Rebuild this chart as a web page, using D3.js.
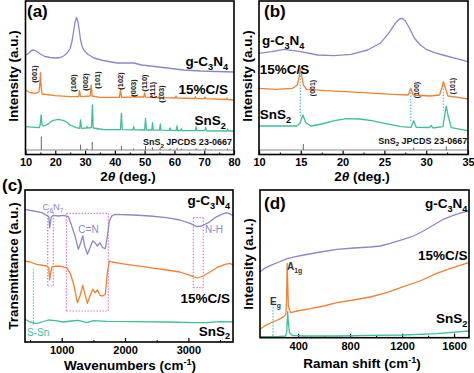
<!DOCTYPE html>
<html>
<head>
<meta charset="utf-8">
<script src="https://cdn.jsdelivr.net/npm/d3@7"></script>
<style>
body{margin:0;background:#fff;}
svg text{font-family:"Liberation Sans",Arial,sans-serif;font-weight:bold;}
</style>
</head>
<body>
<svg id="fig" width="474" height="373"></svg>
<script>
var purple="#8c87ca", orange="#f3802e", green="#3dbe9c", pink="#e07ad6", cyan="#55c3d6";

// names (with sub/superscripts)
var nameGCN = [["g-C",""],["3","sub"],["N",""],["4","sub"]];
var nameCS = [["15%C/S",""]];
var nameSnS = [["SnS",""],["2","sub"]];

// ---- (a) XRD 10-80 deg, [2theta, intensity a.u.]
var xrdA_gcn = [[10,99],[11,101],[12,104],[12.8,104.5],[13.8,103],[15,100.5],[16.5,98],[18.4,97],[20,96.5],[21.8,97],[23,99],[24,101.5],[25,106],[25.7,114.5],[26.2,124],[26.6,132],[27.1,137],[27.6,133],[28,125],[28.5,114.5],[29,108],[29.6,104.5],[31,100],[33,96.5],[36,94],[40.8,91.5],[46.4,91.5],[49,89.5],[52,88.5],[57.6,86.5],[63,84.5],[68.8,83.5],[74,83],[80,82.5]];
var xrdA_cs = [[10,65],[10.8,63],[11.5,62],[13.5,61.2],[14.5,62.5],[14.8,70],[15.0,81.8],[15.25,67],[15.6,60.5],[20,58.8],[25,57.8],[27.85,57.8],[28.15,63.8],[28.5,57.8],[31.7,58.5],[32.05,69.5],[32.4,58.5],[35,57.2],[41.55,57.2],[41.9,65.2],[42.25,57.2],[45.8,57.5],[46.05,59.5],[46.3,57.5],[49.7,57.5],[49.95,61.5],[50.25,57.4],[52.1,57.2],[52.35,60],[52.6,57],[54.7,56.8],[54.95,58.8],[55.2,56.8],[60.3,56.5],[60.55,58.5],[60.8,56.5],[66.8,56],[67.05,57.8],[67.3,56],[70,55.8],[70.25,57.5],[70.5,55.8],[77.4,55],[77.65,56.5],[77.9,55],[80,54.5]];
var xrdA_sns = [[10,27.8],[14.6,26.8],[14.95,30],[15.25,39.5],[15.55,30],[16,28.5],[17,29.5],[18,31.5],[19,33.8],[21,35.2],[23,33.8],[24,32],[25,29.5],[27,26.8],[28.2,26.2],[28.5,34.5],[28.8,26.2],[30.4,26.5],[30.6,28],[30.8,26.3],[32.15,27],[32.45,49.5],[32.75,26.5],[36,25],[41.9,24.8],[42.2,41.2],[42.5,24.8],[46.1,24.6],[46.35,28],[46.6,24.6],[50,24.5],[50.3,36.2],[50.6,24.5],[52.4,24.5],[52.65,31.8],[52.9,24.4],[55,24.4],[55.25,30.5],[55.5,24.4],[58.3,24.2],[58.55,26.5],[58.8,24.2],[60.6,24],[60.85,28.5],[61.1,24],[62.1,24],[62.35,25.8],[62.6,24],[67.0,23.8],[67.3,27.5],[67.6,23.8],[70.2,23.8],[70.5,27],[70.8,23.7],[77.6,23.5],[77.85,25.5],[78.1,23.5],[80,23.5]];
var jcpdsPos = [15.3,28.5,30.6,32.4,42.2,46.3,50.3,52.6,55.2,58.5,60.9,62.3,67.3,70.5,77.8];
var jcpdsInt = [100,40,12,60,30,10,30,20,15,10,15,10,12,12,10];
var hklA = ["(001)","(100)","(002)","(101)","(102)","(003)","(110)","(111)","(103)"];
var hklAPos = [13.0,26.0,30.0,34.2,41.9,46.2,50.0,52.7,55.7];
var hklAVal = [80.5,71.5,72.5,74.5,73.5,66.5,71.5,64.5,60.5];

// ---- (b) XRD 10-35 deg
var xrdB_gcn = [[10,101.2],[11.5,102.8],[13,105.2],[15,102.8],[17,99.5],[19,98.8],[21,100.2],[23,104.5],[24.5,111.2],[25.5,121.2],[26.3,131.2],[26.8,135.5],[27.1,136.2],[27.5,133.8],[28,126.2],[28.6,116.2],[29.3,109.5],[30,105.2],[31,101.8],[32,99.5],[33.5,96.2],[35,92.8]];
var xrdB_cs = [[10,66.2],[12,65.2],[14,66.2],[14.6,69.5],[14.8,77.8],[14.95,86.2],[15.1,79.5],[15.3,69.5],[15.7,65.2],[18,63.8],[22,62.2],[26,60.2],[27.85,59.5],[28.15,66.2],[28.45,59.5],[30.5,58.5],[31.6,59.5],[31.85,66.2],[32.05,72.8],[32.3,66.2],[32.6,58.5],[34,56.8],[35,55.5]];
var xrdB_sns = [[10,28.5],[12,28.5],[14.5,28.5],[14.9,31.2],[15.25,39.5],[15.6,31.8],[16.2,28.5],[17.5,30.5],[19,33.8],[20.5,35.8],[22,35.5],[23.5,33.8],[25,31.2],[27,27.8],[28.2,27.2],[28.5,33.8],[28.8,27.2],[30.4,27],[30.6,29.2],[30.8,26.5],[32.0,27.8],[32.25,41.2],[32.4,48.5],[32.6,39.5],[33.0,26.8],[35,23.8]];
var guideB = [14.95,28.15,32.05];
var guideBTop = [85,65,72];
var guideBBot = [38,33,44];
var hklB = ["(001)","(100)","(101)"];
var hklBPos = [16.35,28.9,33.2];
var hklBVal = [66.5,64.5,68.5];

// ---- (c) FTIR, [wavenumber, transmittance a.u.]
var ftir_gcn = [[421,132.7],[553,131],[684,129.3],[763,126.7],[795,125.3],[810,114.3],[821,119.3],[837,125.3],[868,126.7],[947,126],[1026,126.7],[1105,125.3],[1158,116],[1210,106],[1263,92.7],[1300,99.3],[1332,106],[1363,96],[1405,87.7],[1447,94.3],[1489,101],[1526,99.3],[1563,96],[1605,99.3],[1647,94.3],[1689,93.3],[1721,106],[1753,121],[1790,126],[1842,127.7],[2132,127],[2395,126],[2658,124.3],[2868,122],[3026,118.7],[3132,115.3],[3210,116],[3316,119.3],[3421,124.3],[3526,127.7],[3605,129.3],[3668,127.7],[3705,126.7]];
var ftir_cs = [[421,81],[500,80],[605,77.7],[763,76],[795,74.3],[810,62],[826,69.3],[847,75.3],[947,76],[1079,74.3],[1142,67.7],[1195,56],[1247,39.3],[1289,46],[1332,56.7],[1368,47.7],[1405,38.7],[1447,46],[1489,52.7],[1526,49.3],[1563,52],[1605,46.7],[1647,46],[1689,47.7],[1721,69.3],[1753,81],[1790,80],[1921,78.7],[2132,76.7],[2395,74.3],[2658,72],[2868,70],[3026,66.7],[3142,64],[3237,66],[3342,70],[3447,74.3],[3579,77.7],[3658,78.7],[3705,76.7]];
var ftir_sns = [[421,22.7],[500,20],[605,18.3],[684,20],[790,22],[895,21.3],[1026,20],[1158,21],[1263,21.7],[1395,19.3],[1500,21.3],[1710,20.7],[2132,20.3],[2658,20],[3079,19.3],[3289,19.3],[3500,20.3],[3705,20]];
var boxLo = [778,1075,3078];
var boxHi = [867,1736,3236];
var boxTop = [130,128.7,124.3];
var boxBot = [56,31,54.3];
var ssnPos = 553, ssnTop = 72.7, ssnBot = 16;

// ---- (d) Raman, [shift, intensity a.u.]
var raman_gcn = [[106,65.7],[137,69],[188,72.4],[252,75.7],[316,79],[380,81],[443,82.7],[571,85.7],[699,88.4],[827,89.7],[955,90.7],[1031,91.7],[1108,94.4],[1210,98.4],[1287,101.7],[1364,106.7],[1440,112.4],[1517,118.4],[1594,122.4],[1658,125],[1714,126.7]];
var raman_cs = [[106,8.4],[150,12.4],[201,15.7],[252,18.4],[290,21],[305,23.4],[311,40],[315,74.4],[318,61.7],[324,31.7],[341,25],[392,26.7],[495,29],[597,31.7],[699,35],[827,37.7],[955,40.7],[1082,45],[1210,51],[1338,56.7],[1466,64.4],[1568,69],[1645,72.4],[1714,75]];
var raman_sns = [[106,1],[239,1],[303,1.7],[312,6],[319,26],[323,16.7],[333,5],[354,2.4],[443,1.7],[699,1.7],[955,2.4],[1210,2.7],[1466,4],[1714,6.7]];
var egPos = 206, egTop = 36.7;

var svg = d3.select("#fig");

function rich(t, parts, fs){
  var shift = 0;
  parts.forEach(function(p){
    var s = p[1]=="sub" ? fs*0.28 : p[1]=="sup" ? -fs*0.38 : 0;
    var small = p[1]=="sub" || p[1]=="sup";
    t.append("tspan").text(p[0])
      .attr("dy", (s-shift).toFixed(2))
      .style("font-size", (small ? fs*0.68 : fs)+"px")
      .style("font-style", p[1]=="it" ? "italic" : null);
    shift = s;
  });
  return t;
}

function panel(o){
  var x = d3.scaleLinear().domain(o.dom).range([o.left,o.right]);
  var y = d3.scaleLinear().domain([0,o.bottom-o.top]).range([o.bottom,o.top]);
  var g = svg.append("g");
  g.append("g").attr("transform","translate(0,"+o.bottom+")")
    .call(d3.axisBottom(x).tickValues(o.ticks).tickSize(-4).tickPadding(o.pad).tickFormat(d3.format("d")))
    .call(a=>a.select(".domain").remove())
    .call(a=>a.selectAll("line").attr("stroke","#000").attr("stroke-width",1.2))
    .selectAll("text").style("font-size","11px").attr("fill","#000");
  g.append("g").attr("transform","translate(0,"+o.bottom+")")
    .call(d3.axisBottom(x).tickValues(o.minor).tickSize(-2).tickFormat(""))
    .call(a=>a.select(".domain").remove())
    .call(a=>a.selectAll("line").attr("stroke","#000").attr("stroke-width",1));
  // titles
  rich(g.append("text").attr("x",o.xtx).attr("y",o.xty).attr("text-anchor","middle"), o.xtitle, 13.5);
  g.append("text").attr("transform","translate("+o.ytx+","+o.yty+") rotate(-90)")
    .attr("text-anchor","middle").style("font-size","13.5px").text(o.ytitle);
  g.append("text").attr("x",o.lx).attr("y",o.ly).style("font-size","17px").text(o.tag);
  return {g:g,x:x,y:y,o:o};
}

function frame(p){
  var o = p.o;
  p.g.append("rect").attr("x",o.left).attr("y",o.top)
    .attr("width",o.right-o.left).attr("height",o.bottom-o.top)
    .attr("fill","none").attr("stroke","#000").attr("stroke-width",1.6);
}

function curve(p, data, col){
  p.g.append("path").datum(data)
    .attr("d", d3.line().x(d=>p.x(d[0])).y(d=>p.y(d[1])))
    .attr("fill","none").attr("stroke",col).attr("stroke-width",1.3).attr("stroke-linejoin","round");
}

function label(p, xv, yv, parts, fs, anchor, col){
  return rich(p.g.append("text").attr("x",p.x(xv)).attr("y",p.y(yv))
    .attr("text-anchor",anchor).attr("fill",col||"#000"), parts, fs);
}

function dotted(p, x0, y0, x1, y1, col){
  p.g.append("line").attr("x1",p.x(x0)).attr("y1",p.y(y0)).attr("x2",p.x(x1)).attr("y2",p.y(y1))
    .attr("stroke",col).attr("stroke-width",1.2).attr("stroke-dasharray","1.5,1.5");
}

function hkl(p, names, pos, vals, fs){
  p.g.selectAll(null).data(names).enter().append("text")
    .attr("transform",(d,i)=>"translate("+p.x(pos[i])+","+p.y(vals[i])+") rotate(-90)")
    .attr("text-anchor","middle").attr("dy","0.35em")
    .style("font-size",fs+"px").attr("fill","#222").text(d=>d);
}

function jcpds(p, maxH, fs, txtX, txtY, anchor){
  var base = 4.5;
  var h = d3.scaleLinear().domain([0,100]).range([base, base+maxH]);
  p.g.append("line").attr("x1",p.o.left).attr("x2",p.o.right)
    .attr("y1",p.y(base)).attr("y2",p.y(base)).attr("stroke","#888").attr("stroke-width",1);
  p.g.selectAll(null).data(jcpdsPos.filter(v=>v<=p.o.dom[1])).enter().append("line")
    .attr("x1",d=>p.x(d)).attr("x2",d=>p.x(d))
    .attr("y1",p.y(base)).attr("y2",(d,i)=>p.y(h(jcpdsInt[i])))
    .attr("stroke","#666").attr("stroke-width",1);
  label(p, txtX, txtY, [["SnS",""],["2","sub"],[" JPCDS 23-0667",""]], fs, anchor, "#111");
}

var degTitle = [["2",""],["\u03b8","it"],[" (deg.)",""]];

// ===== (a)
var pa = panel({dom:[10,80], left:25.5, right:234, top:1, bottom:154.5,
  ticks:[10,20,30,40,50,60,70,80], minor:[15,25,35,45,55,65,75], pad:3.6,
  xtitle:degTitle, xtx:128, xty:180.5, ytitle:"Intensity (a.u.)", ytx:18, yty:76,
  tag:"(a)", lx:27, ly:17});
curve(pa, xrdA_gcn, purple);
curve(pa, xrdA_cs, orange);
curve(pa, xrdA_sns, green);
jcpds(pa, 13.5, 9, 79.3, 9.5, "end");
hkl(pa, hklA, hklAPos, hklAVal, 7.5);
label(pa, 78, 88.5, nameGCN, 13.5, "end");
label(pa, 78, 60.5, nameCS, 13.5, "end");
label(pa, 77.3, 29.5, nameSnS, 13.5, "end");
frame(pa);

// ===== (b)
var pb = panel({dom:[10,35], left:259, right:468, top:1, bottom:154.5,
  ticks:[10,15,20,25,30,35], minor:[12.5,17.5,22.5,27.5,32.5], pad:3.6,
  xtitle:degTitle, xtx:362, xty:180.5, ytitle:"Intensity (a.u.)", ytx:252, yty:76,
  tag:"(b)", lx:264, ly:17});
guideB.forEach((g,i)=>dotted(pb, g, guideBTop[i], g, guideBBot[i], cyan));
curve(pb, xrdB_gcn, purple);
curve(pb, xrdB_cs, orange);
curve(pb, xrdB_sns, green);
jcpds(pb, 6, 9, 34.9, 11, "end");
hkl(pb, hklB, hklBPos, hklBVal, 7);
label(pb, 10.36, 109.5, nameGCN, 13.5, "start");
label(pb, 10.1, 80.5, nameCS, 13.5, "start");
label(pb, 10.1, 35.5, nameSnS, 13.5, "start");
frame(pb);

// ===== (c)
var pc = panel({dom:[420,3705], left:25, right:233, top:190, bottom:342,
  ticks:[1000,2000,3000], minor:[500,1500,2500,3500], pad:4.5,
  xtitle:[["Wavenumbers (cm",""],["-1","sup"],[")",""]], xtx:130, xty:370,
  ytitle:"Transmittance (a.u.)", ytx:18, yty:266, tag:"(c)", lx:2, ly:191});
boxLo.forEach(function(b,i){
  dotted(pc, boxLo[i], boxTop[i], boxHi[i], boxTop[i], pink);
  dotted(pc, boxLo[i], boxBot[i], boxHi[i], boxBot[i], pink);
  dotted(pc, boxLo[i], boxTop[i], boxLo[i], boxBot[i], pink);
  dotted(pc, boxHi[i], boxTop[i], boxHi[i], boxBot[i], pink);
});
dotted(pc, ssnPos, ssnTop, ssnPos, ssnBot, cyan);
curve(pc, ftir_gcn, purple);
curve(pc, ftir_cs, orange);
curve(pc, ftir_sns, green);
label(pc, 862, 132, [["C",""],["6","sub"],["N",""],["7","sub"]], 9.5, "middle", purple).style("font-weight","normal");
label(pc, 1423, 109, [["C=N",""]], 10, "middle", purple).style("font-weight","normal");
label(pc, 3405, 109, [["N-H",""]], 10, "middle", purple).style("font-weight","normal");
label(pc, 452, 6.5, [["S-Sn",""]], 10, "start", green).style("font-weight","normal");
label(pc, 3658, 137, nameGCN, 13.5, "end");
label(pc, 3658, 39.5, nameCS, 13.5, "end");
label(pc, 3658, 6.5, nameSnS, 13.5, "end");
frame(pc);

// ===== (d)
var pd = panel({dom:[106,1715], left:260, right:469, top:190, bottom:337.7,
  ticks:[400,800,1200,1600], minor:[200,600,1000,1400], pad:4.8,
  xtitle:[["Raman shift (cm",""],["-1","sup"],[")",""]], xtx:362, xty:368,
  ytitle:"Intensity (a.u.)", ytx:253, yty:264, tag:"(d)", lx:264, ly:208.5});
dotted(pd, egPos, egTop, egPos, 0, cyan);
curve(pd, raman_gcn, purple);
curve(pd, raman_cs, orange);
curve(pd, raman_sns, green);
label(pd, 314, 67.7, [["A",""],["1g","sub"]], 10, "start", "#333");
label(pd, 183, 32.7, [["E",""],["g","sub"]], 10, "start", "#333");
label(pd, 1703, 129.7, nameGCN, 13.5, "end");
label(pd, 1703, 77.7, nameCS, 13.5, "end");
label(pd, 1703, 14.7, nameSnS, 13.5, "end");
frame(pd);
</script>
</body>
</html>
